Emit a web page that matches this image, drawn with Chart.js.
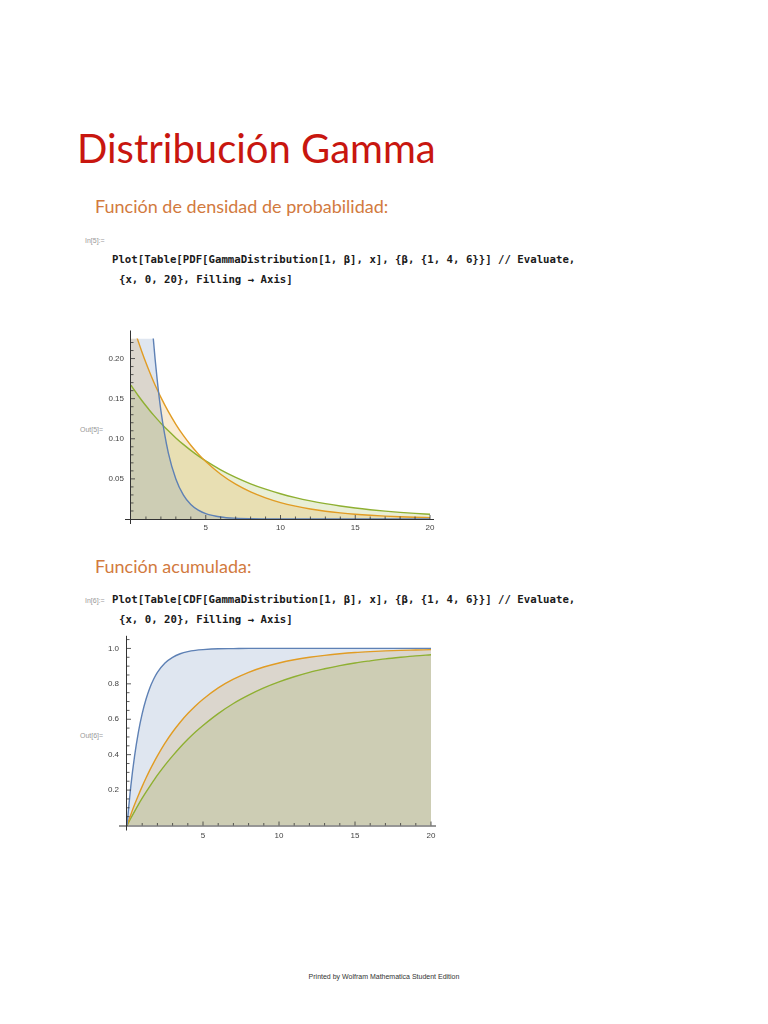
<!DOCTYPE html>
<html>
<head>
<meta charset="utf-8">
<script src="https://cdn.jsdelivr.net/npm/chart.js@4"></script>
<style>
  body { margin: 0; background: #fff; }
  #page { position: relative; width: 768px; height: 1024px; overflow: hidden; }
  .t { position: absolute; white-space: pre; line-height: 1; }
  .title { font-family: Lato, sans-serif; font-size: 40px; color: #c8160f; left: 77px; top: 128px; }
  .sec { font-family: Lato, sans-serif; font-size: 18px; color: #d27a3e; left: 95px; }
  .code { font-family: "DejaVu Sans Mono", monospace; font-weight: bold; font-size: 10.7px; color: #1a1a1a; line-height: 20px; }
  .lab { font-family: "Liberation Sans", Arial, sans-serif; font-size: 7px; color: #999; }
  .foot { font-family: "Liberation Sans", Arial, sans-serif; font-size: 7px; color: #333; left: 0; width: 768px; text-align: center; top: 973px; }
  canvas { position: absolute; }
</style>
</head>
<body>
<div id="page">
  <div class="t title">Distribución Gamma</div>
  <div class="t sec" style="top:197px">Función de densidad de probabilidad:</div>
  <div class="t lab" style="left:85px; top:237px">In[5]:=</div>
  <div class="t code" style="left:112px; top:250px">Plot[Table[PDF[GammaDistribution[1, β], x], {β, {1, 4, 6}}] // Evaluate,</div>
  <div class="t code" style="left:119px; top:270px">{x, 0, 20}, Filling → Axis]</div>
  <div class="t lab" style="left:80px; top:426px">Out[5]=</div>

  <div class="t sec" style="top:557px">Función acumulada:</div>
  <div class="t lab" style="left:85px; top:597px">In[6]:=</div>
  <div class="t code" style="left:112px; top:590px">Plot[Table[CDF[GammaDistribution[1, β], x], {β, {1, 4, 6}}] // Evaluate,</div>
  <div class="t code" style="left:119px; top:610px">{x, 0, 20}, Filling → Axis]</div>
  <div class="t lab" style="left:80px; top:732px">Out[6]=</div>

  <canvas id="pdfChart" width="370" height="220" style="left:80px; top:320px"></canvas>
  <canvas id="cdfChart" width="370" height="220" style="left:80px; top:625px"></canvas>

  <div class="t foot">Printed by Wolfram Mathematica Student Edition</div>
</div>
<script>
// x positions where values were read
var xs = [0, 0.25, 0.5, 0.75, 1, 1.25, 1.5, 1.75, 2, 2.5, 3, 3.5, 4, 4.5, 5,
          6, 7, 8, 9, 10, 11, 12, 13, 14, 15, 16, 17, 18, 19, 20];

// densidad, beta = 1, 4, 6
var pdf1 = [1.000, 0.779, 0.607, 0.472, 0.368, 0.287, 0.223, 0.174, 0.135, 0.082, 0.050, 0.030, 0.018, 0.011, 0.0067,
            0.0025, 0.0009, 0.0003, 0.0001, 0, 0, 0, 0, 0, 0, 0, 0, 0, 0, 0];
var pdf4 = [0.250, 0.2349, 0.2206, 0.2073, 0.1947, 0.1829, 0.1718, 0.1614, 0.1516, 0.1338, 0.1181, 0.1042, 0.0920, 0.0812, 0.0716,
            0.0558, 0.0434, 0.0338, 0.0264, 0.0205, 0.0160, 0.0124, 0.0097, 0.0076, 0.0059, 0.0046, 0.0036, 0.0028, 0.0022, 0.0017];
var pdf6 = [0.1667, 0.1599, 0.1533, 0.1471, 0.1411, 0.1353, 0.1298, 0.1245, 0.1194, 0.1099, 0.1011, 0.0930, 0.0856, 0.0787, 0.0724,
            0.0613, 0.0519, 0.0439, 0.0372, 0.0315, 0.0267, 0.0226, 0.0191, 0.0162, 0.0137, 0.0116, 0.0098, 0.0083, 0.0070, 0.0060];

// acumulada, beta = 1, 4, 6
var cdf1 = [0, 0.221, 0.393, 0.528, 0.632, 0.713, 0.777, 0.826, 0.865, 0.918, 0.950, 0.970, 0.982, 0.989, 0.993,
            0.998, 0.999, 1.000, 1.000, 1.000, 1.000, 1.000, 1.000, 1.000, 1.000, 1.000, 1.000, 1.000, 1.000, 1.000];
var cdf4 = [0, 0.061, 0.118, 0.171, 0.221, 0.268, 0.313, 0.354, 0.393, 0.465, 0.528, 0.583, 0.632, 0.675, 0.713,
            0.777, 0.826, 0.865, 0.895, 0.918, 0.936, 0.950, 0.961, 0.970, 0.977, 0.982, 0.986, 0.989, 0.991, 0.993];
var cdf6 = [0, 0.041, 0.080, 0.118, 0.154, 0.188, 0.221, 0.253, 0.284, 0.341, 0.393, 0.442, 0.487, 0.528, 0.565,
            0.632, 0.689, 0.736, 0.777, 0.811, 0.840, 0.865, 0.885, 0.903, 0.918, 0.930, 0.941, 0.950, 0.958, 0.964];

var xTicks = [5, 10, 15, 20];
var pdfTicks = [0.05, 0.10, 0.15, 0.20];
var cdfTicks = [0.2, 0.4, 0.6, 0.8, 1.0];

var colors = ['#5e81b5', '#e19c24', '#8fb032'];
var fills = ['rgba(94,129,181,0.2)', 'rgba(225,156,36,0.2)', 'rgba(143,176,50,0.2)'];

function pts(ys) {
    return xs.map(function(x, i) { return {x: x, y: ys[i]}; });
}

// Mathematica style axes: lines through the origin, ticks pointing inward
var mmaAxes = {
    id: 'mmaAxes',
    afterDatasetsDraw: function(chart, args, o) {
        var ctx = chart.ctx, a = chart.chartArea;
        var sx = chart.scales.x, sy = chart.scales.y;
        var x0 = sx.getPixelForValue(0), y0 = sy.getPixelForValue(0);
        ctx.save();
        ctx.strokeStyle = '#333';
        ctx.lineWidth = 1;
        ctx.beginPath();
        ctx.moveTo(a.left - o.ext[0], y0 + 0.5);
        ctx.lineTo(a.right + o.ext[1], y0 + 0.5);
        ctx.moveTo(x0 - 0.5, a.bottom + o.ext[2]);
        ctx.lineTo(x0 - 0.5, a.top - o.ext[3]);
        ctx.stroke();
        ctx.lineWidth = 0.8;
        ctx.beginPath();
        var v, p, len;
        for (v = o.xMinor; v <= sx.max + 1e-9; v += o.xMinor) {
            p = sx.getPixelForValue(v);
            len = Math.abs(v / o.xMajor - Math.round(v / o.xMajor)) < 1e-6 ? 4 : 2.5;
            ctx.moveTo(p, y0);
            ctx.lineTo(p, y0 - len);
        }
        for (v = o.yMinor; v <= sy.max + o.yMinor * 0.5; v += o.yMinor) {
            p = sy.getPixelForValue(v);
            if (p < a.top - o.ext[3]) break;
            len = Math.abs(v / o.yMajor - Math.round(v / o.yMajor)) < 1e-6 ? 4 : 2.5;
            ctx.moveTo(x0, p);
            ctx.lineTo(x0 + len, p);
        }
        ctx.stroke();
        ctx.restore();
    }
};

function makeChart(id, series, yMax, yTicks, digits, yWidth, xHeight, pad, ext, yMinor, yMajor, padX, padY) {
    var datasets = series.map(function(s, i) {
        return {
            data: pts(s),
            borderColor: colors[i],
            backgroundColor: fills[i],
            borderWidth: 1.4,
            pointRadius: 0,
            cubicInterpolationMode: 'monotone',
            fill: 'origin',
            clip: {left: 4, right: 4, top: 0, bottom: 4}
        };
    });
    return new Chart(document.getElementById(id), {
        type: 'line',
        data: {datasets: datasets},
        plugins: [mmaAxes],
        options: {
            responsive: false,
            animation: false,
            layout: {padding: pad},
            plugins: {
                legend: {display: false},
                tooltip: {enabled: false},
                filler: {drawTime: 'beforeDatasetsDraw'},
                mmaAxes: {ext: ext, xMinor: 1, xMajor: 5, yMinor: yMinor, yMajor: yMajor}
            },
            scales: {
                x: {
                    type: 'linear', min: 0, max: 20,
                    grid: {display: false, drawTicks: false},
                    border: {display: false},
                    afterBuildTicks: function(s) { s.ticks = xTicks.map(function(v) { return {value: v}; }); },
                    afterFit: function(s) { s.height = xHeight; },
                    ticks: {
                        padding: padX, maxRotation: 0, autoSkip: false, color: '#444',
                        font: {family: 'Liberation Sans', size: 8},
                        callback: function(v) { return String(v); }
                    }
                },
                y: {
                    type: 'linear', min: 0, max: yMax,
                    grid: {display: false, drawTicks: false},
                    border: {display: false},
                    afterBuildTicks: function(s) { s.ticks = yTicks.map(function(v) { return {value: v}; }); },
                    afterFit: function(s) { s.width = yWidth; },
                    ticks: {
                        padding: padY, autoSkip: false, color: '#444',
                        font: {family: 'Liberation Sans', size: 8},
                        callback: function(v) { return v.toFixed(digits); }
                    }
                }
            }
        }
    });
}

makeChart('pdfChart', [pdf1, pdf4, pdf6], 0.225, pdfTicks, 2, 51, 21,
          {top: 18.5, right: 20, bottom: 0, left: 0}, [6, 4, 5, 8], 0.01, 0.05, 4, 7);
makeChart('cdfChart', [cdf1, cdf4, cdf6], 1.06, cdfTicks, 1, 47, 19.5,
          {top: 8, right: 19, bottom: 0, left: 0}, [8, 5, 5, 2], 0.05, 0.2, 5, 8);
</script>
</body>
</html>
